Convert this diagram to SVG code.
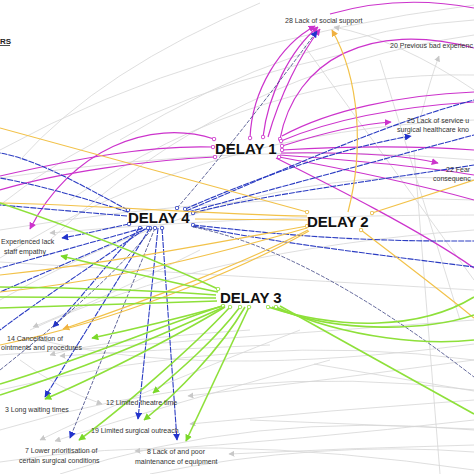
<svg xmlns="http://www.w3.org/2000/svg" width="474" height="474" viewBox="0 0 474 474">
<style>
.g{fill:none;stroke:#d6d6d6;stroke-width:0.8}
.m{fill:none;stroke:#cc33cc;stroke-width:1.2}
.b{fill:none;stroke:#2b3cc2;stroke-width:1.1;stroke-dasharray:6 1}
.bd{fill:none;stroke:#3a4080;stroke-width:0.8;stroke-dasharray:4 1.5}
.y{fill:none;stroke:#f2c24a;stroke-width:1.2}
.gr{fill:none;stroke:#8ee03a;stroke-width:1.6}
.lb{font-family:"Liberation Sans",Arial,sans-serif;font-size:7px;fill:#333}
.dl{font-family:"Liberation Sans",Arial,sans-serif;font-size:15px;font-weight:bold;fill:#111}
</style>
<defs>
<marker id="aG" viewBox="0 0 10 10" refX="9" refY="5" markerWidth="6" markerHeight="6" markerUnits="userSpaceOnUse" orient="auto"><path d="M0,0L10,5L0,10z" fill="#c8c8c8"/></marker>
<marker id="aM" viewBox="0 0 10 10" refX="9" refY="5" markerWidth="7" markerHeight="7" markerUnits="userSpaceOnUse" orient="auto"><path d="M0,0L10,5L0,10z" fill="#cc33cc"/></marker>
<marker id="aB" viewBox="0 0 10 10" refX="9" refY="5" markerWidth="7" markerHeight="7" markerUnits="userSpaceOnUse" orient="auto"><path d="M0,0L10,5L0,10z" fill="#2233cc"/></marker>
<marker id="aY" viewBox="0 0 10 10" refX="9" refY="5" markerWidth="7" markerHeight="7" markerUnits="userSpaceOnUse" orient="auto"><path d="M0,0L10,5L0,10z" fill="#f0b040"/></marker>
<marker id="aE" viewBox="0 0 10 10" refX="9" refY="5" markerWidth="7" markerHeight="7" markerUnits="userSpaceOnUse" orient="auto"><path d="M0,0L10,5L0,10z" fill="#7ad82a"/></marker>
<marker id="cM" viewBox="0 0 10 10" refX="5" refY="5" markerWidth="5" markerHeight="5" markerUnits="userSpaceOnUse"><circle cx="5" cy="5" r="3.6" fill="#fff" stroke="#cc33cc" stroke-width="1.8"/></marker>
<marker id="cB" viewBox="0 0 10 10" refX="5" refY="5" markerWidth="5" markerHeight="5" markerUnits="userSpaceOnUse"><circle cx="5" cy="5" r="3.6" fill="#fff" stroke="#2b3cc2" stroke-width="1.8"/></marker>
<marker id="cY" viewBox="0 0 10 10" refX="5" refY="5" markerWidth="5" markerHeight="5" markerUnits="userSpaceOnUse"><circle cx="5" cy="5" r="3.6" fill="#fff" stroke="#e8b840" stroke-width="1.8"/></marker>
<marker id="cE" viewBox="0 0 10 10" refX="5" refY="5" markerWidth="5" markerHeight="5" markerUnits="userSpaceOnUse"><circle cx="5" cy="5" r="3.6" fill="#fff" stroke="#8ee03a" stroke-width="1.8"/></marker>
</defs>
<rect width="474" height="474" fill="#fff"/>
<g id="connectors">
<g id="grey">
<path class="g" d="M20,160 Q100,70 260,3"/>
<path class="g" d="M0,205 Q130,100 340,55"/>
<path class="g" d="M50,240 Q230,70 474,35"/>
<path class="g" d="M0,150 Q200,40 474,5"/>
<path class="g" d="M70,200 Q260,70 474,75"/>
<path class="g" d="M120,140 Q300,30 474,20"/>
<path class="g" d="M0,258 Q200,130 474,120"/>
<path class="g" d="M0,300 Q250,160 474,180"/>
<path class="g" d="M30,330 Q200,250 474,230"/>
<path class="g" d="M0,178 Q250,140 474,160"/>
<path class="g" d="M0,230 Q240,190 474,200"/>
<path class="g" d="M0,262 Q300,280 474,290"/>
<path class="g" d="M0,355 L474,320"/>
<path class="g" d="M0,390 Q250,330 474,360"/>
<path class="g" d="M0,430 Q230,360 474,390"/>
<path class="g" d="M60,474 Q250,410 474,430"/>
<path class="g" d="M150,474 Q320,440 474,452"/>
<path class="g" d="M0,462 Q200,430 474,470"/>
<path class="g" d="M314,364 L474,391"/>
<path class="g" d="M250,420 L474,429"/>
<path class="g" d="M380,60 L460,320"/>
<path class="g" d="M300,40 L474,280"/>
<path class="g" d="M414,150 L440,474"/>
<path class="g" d="M40,340 Q200,380 474,344"/>
<path class="g" d="M474,360 Q330,380 188,396" marker-end="url(#aG)"/>
<path class="g" d="M474,400 Q330,410 190,424" marker-end="url(#aG)"/>
<path class="g" d="M474,445 Q350,448 229,454" marker-end="url(#aG)"/>
<path class="g" d="M474,420 Q300,440 135,451" marker-end="url(#aG)"/>
<path class="g" d="M20,360 Q60,390 102,404" marker-end="url(#aG)"/>
<path class="g" d="M300,330 Q120,400 40,440" marker-end="url(#aG)"/>
<path class="g" d="M330,360 Q150,410 55,441" marker-end="url(#aG)"/>
<path class="g" d="M200,250 Q100,300 33,327" marker-end="url(#aG)"/>
<path class="g" d="M250,330 Q100,340 50,355" marker-end="url(#aG)"/>
<path class="g" d="M270,345 Q150,350 60,356" marker-end="url(#aG)"/>
<path class="g" d="M474,215 Q250,215 50,233" marker-end="url(#aG)"/>
<path class="g" d="M474,90 Q400,40 334,27" marker-end="url(#aG)"/>
<path class="g" d="M420,120 Q430,80 439,56" marker-end="url(#aG)"/>
</g>
<g id="delay1-edges">
<path class="m" d="M263,137 C268,95 290,50 318,27" marker-start="url(#cM)" marker-end="url(#aM)"/>
<path class="m" d="M250,138 C252,90 280,45 315,26" marker-start="url(#cM)" marker-end="url(#aM)"/>
<path class="m" d="M268,137 C280,95 300,55 320,29" marker-end="url(#aM)"/>
<path class="m" d="M280,139 C295,60 370,20 474,48" marker-start="url(#cM)"/>
<path class="m" d="M282,136 C330,110 400,95 474,92"/>
<path class="m" d="M281,141 C340,116 410,106 474,102" marker-start="url(#cM)"/>
<path class="m" d="M282,146 C320,134 360,124 391,122" marker-start="url(#cM)" marker-end="url(#aM)"/>
<path class="m" d="M282,150 C350,146 420,146 474,150" marker-start="url(#cM)"/>
<path class="m" d="M281,153 C340,152 400,154 438,163" marker-end="url(#aM)"/>
<path class="m" d="M280,155 C350,160 420,166 474,175"/>
<path class="m" d="M279,157 C350,170 420,185 474,200" marker-start="url(#cM)"/>
<path class="m" d="M276,158 C330,185 420,230 474,268"/>
<path class="m" d="M214,139 C150,118 70,150 30,229" marker-start="url(#cM)" marker-end="url(#aM)"/>
<path class="m" d="M213,147 C150,145 80,158 0,176" marker-start="url(#cM)"/>
<path class="m" d="M215,157 C150,160 60,172 0,190" marker-start="url(#cM)"/>
<path class="m" d="M330,14 Q400,-6 474,8"/>
</g>
<g id="delay4-edges">
<path class="bd" d="M177,208 C215,165 270,95 317,31" marker-start="url(#cB)" marker-end="url(#aB)"/>
<path class="b" d="M185,209 C240,185 330,150 411,136" marker-start="url(#cB)" marker-end="url(#aB)"/>
<path class="b" d="M186,211 C260,180 380,125 474,100"/>
<path class="b" d="M188,212 C270,190 380,160 474,135"/>
<path class="b" d="M193,213 C260,195 380,180 474,165" marker-start="url(#cB)"/>
<path class="b" d="M193,225 C260,232 340,242 474,241" marker-start="url(#cB)"/>
<path class="b" d="M193,226 C270,242 380,255 474,267"/>
<path class="bd" d="M193,227 Q310,250 474,377"/>
<path class="b" d="M128,210 C90,190 40,160 0,153" marker-start="url(#cB)"/>
<path class="b" d="M128,212 C90,200 40,185 0,178"/>
<path class="b" d="M127,216 L0,205"/>
<path class="b" d="M129,224 C100,230 80,235 62,238" marker-start="url(#cB)" marker-end="url(#aB)"/>
<path class="b" d="M140,228 C110,260 80,300 53,327" marker-start="url(#cB)" marker-end="url(#aB)"/>
<path class="b" d="M150,228 L45,397" marker-start="url(#cB)" marker-end="url(#aB)"/>
<path class="bd" d="M155,228 L70,438" marker-start="url(#cB)" marker-end="url(#aB)"/>
<path class="b" d="M158,228 L138,419" marker-end="url(#aB)"/>
<path class="b" d="M162,228 L177,440" marker-start="url(#cB)" marker-end="url(#aB)"/>
<path class="b" d="M143,228 L0,268"/>
<path class="b" d="M148,228 L0,292" marker-start="url(#cB)"/>
<path class="b" d="M145,229 C100,260 40,300 0,330"/>
<path class="bd" d="M152,229 C110,280 50,330 0,370"/>
</g>
<g id="delay2-edges">
<path class="y" d="M372,213 L474,180" marker-start="url(#cY)"/>
<path class="y" d="M361,230 C400,260 440,290 474,318" marker-start="url(#cY)"/>
<path class="y" d="M348,212 C364,150 360,80 332,30" marker-end="url(#aY)"/>
<path class="y" d="M307,212 L0,128" marker-start="url(#cY)"/>
<path class="y" d="M307,216 C200,214 100,205 0,203"/>
<path class="y" d="M307,220 L195,219"/>
<path class="y" d="M307,226 C230,240 120,262 0,275" marker-start="url(#cY)"/>
<path class="y" d="M307,228 C230,250 120,280 0,292"/>
<path class="y" d="M308,230 C250,260 150,300 63,329" marker-end="url(#aY)"/>
<path class="y" d="M309,231 C240,270 120,320 0,345"/>
</g>
<g id="delay3-edges">
<path class="gr" d="M218,289 C160,262 80,230 0,203" marker-start="url(#cE)"/>
<path class="gr" d="M218,292 C160,280 100,265 61,256" marker-end="url(#aE)"/>
<path class="gr" d="M216,295 C150,290 80,288 0,287"/>
<path class="gr" d="M216,298 L0,297"/>
<path class="gr" d="M217,301 C150,303 80,306 0,308"/>
<path class="gr" d="M223,306 C180,318 130,330 92,338" marker-start="url(#cE)" marker-end="url(#aE)"/>
<path class="gr" d="M225,307 C170,340 90,380 45,399" marker-end="url(#aE)"/>
<path class="gr" d="M230,307 C190,350 120,410 79,440" marker-start="url(#cE)" marker-end="url(#aE)"/>
<path class="gr" d="M240,307 C215,340 180,370 153,393" marker-start="url(#cE)" marker-end="url(#aE)"/>
<path class="gr" d="M245,307 C220,350 175,395 144,420" marker-end="url(#aE)"/>
<path class="gr" d="M249,307 L186,441" marker-start="url(#cE)" marker-end="url(#aE)"/>
<path class="gr" d="M222,306 C150,330 80,360 0,384"/>
<path class="gr" d="M224,307 C150,340 80,370 0,395"/>
<path class="gr" d="M268,307 C340,330 420,330 474,297" marker-start="url(#cE)"/>
<path class="gr" d="M272,307 C340,335 430,330 474,315"/>
<path class="gr" d="M276,307 C350,340 430,345 474,340" marker-start="url(#cE)"/>
<path class="gr" d="M280,306 L474,414"/>
</g>
</g>
<g id="title"><text x="0" y="44" font-family="Liberation Sans,Arial,sans-serif" font-size="8" font-weight="bold" fill="#222">RS</text><rect x="0" y="45" width="10" height="0.8" fill="#222"/></g>
<g id="delay1"><text class="dl" x="215" y="154">DELAY 1</text></g>
<g id="delay4"><text class="dl" x="128" y="223">DELAY 4</text></g>
<g id="delay2"><text class="dl" x="307" y="227">DELAY 2</text></g>
<g id="delay3"><text class="dl" x="220" y="303">DELAY 3</text></g>
<g id="n28"><text class="lb" x="285" y="22.5">28 Lack of social support</text></g>
<g id="n20"><text class="lb" x="390" y="47.5" font-size="6.8">20 Previous bad experienc</text></g>
<g id="n25"><text class="lb" x="407" y="123">25 Lack of service u</text><text class="lb" x="397" y="132">surgical healthcare kno</text></g>
<g id="n22"><text class="lb" x="446" y="171.5">22 Fear</text><text class="lb" x="433" y="181">consequenc</text></g>
<g id="n11"><text class="lb" x="1" y="243.5">Experienced lack</text><text class="lb" x="4" y="253.5">staff empathy</text></g>
<g id="n14"><text class="lb" x="7" y="340.5">14 Cancellation of</text><text class="lb" x="1" y="349.5">ointments and procedures</text></g>
<g id="n3"><text class="lb" x="5" y="411.5">3 Long waiting times</text></g>
<g id="n12"><text class="lb" x="106" y="404.5">12 Limited theatre time</text></g>
<g id="n19"><text class="lb" x="91" y="432.5">19 Limited surgical outreach</text></g>
<g id="n7"><text class="lb" x="25" y="452.5">7 Lower prioritisation of</text><text class="lb" x="19" y="462.5">certain surgical conditions</text></g>
<g id="n8"><text class="lb" x="147" y="453.5">8 Lack of and poor</text><text class="lb" x="135" y="463.5">maintenance of equipment</text></g>
</svg>
